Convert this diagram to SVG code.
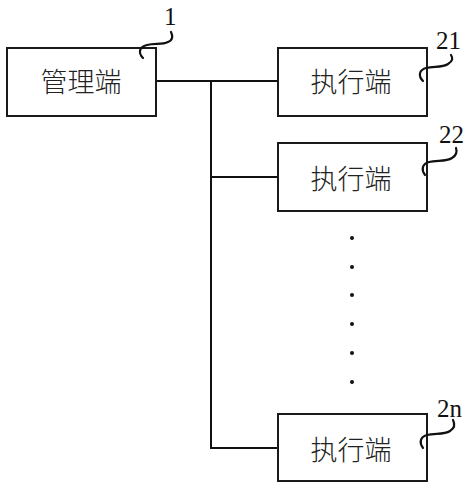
<svg xmlns="http://www.w3.org/2000/svg" width="474" height="490" viewBox="0 0 474 490">
<style>
.box{fill:#fff;stroke:#1a1a1a;stroke-width:2}
.cn{font-family:"Noto Sans CJK SC",sans-serif;font-size:27px;font-weight:300;fill:#222;text-anchor:middle;dominant-baseline:central}
.num{font-family:"Liberation Serif",serif;font-size:25px;fill:#111}
.lead{fill:none;stroke:#111;stroke-width:2.2;stroke-linecap:round}
.wire{fill:none;stroke:#111;stroke-width:2}
</style>
<rect width="474" height="490" fill="#fff"/>
<g id="connectors">
<path class="wire" d="M156,81 H278 M211,81 V448 H278 M211,177 H278"/>
</g>
<g id="manager">
<rect class="box" x="7" y="48" width="149" height="68"/>
<text class="cn" x="81" y="80">管理端</text>
<path class="lead" d="M143,58 C138,53 139,47 147,45 C155,43 162,45 168,42 C173,40 173,36 171,32"/>
<text class="num" x="164" y="25">1</text>
</g>
<g id="exec1">
<rect class="box" x="278" y="48" width="149" height="68"/>
<text class="cn" x="351" y="80">执行端</text>
<path class="lead" d="M423,81 C418,76 419,70 426,68 C434,66 442,68 448,64 C453,61 453,58 451,55"/>
<text class="num" x="436" y="49">21</text>
</g>
<g id="exec2">
<rect class="box" x="278" y="143" width="149" height="68"/>
<text class="cn" x="351" y="177">执行端</text>
<path class="lead" d="M425,175 C421,170 422,164 429,162 C437,160 446,162 452,158 C457,155 457,151 456,148"/>
<text class="num" x="439" y="143">22</text>
</g>
<g id="dots" fill="#111">
<circle cx="352" cy="238" r="2"/>
<circle cx="352" cy="267" r="2"/>
<circle cx="352" cy="295" r="2"/>
<circle cx="352" cy="324" r="2"/>
<circle cx="352" cy="353" r="2"/>
<circle cx="352" cy="382" r="2"/>
</g>
<g id="execn">
<rect class="box" x="278" y="414" width="149" height="67"/>
<text class="cn" x="351" y="448">执行端</text>
<path class="lead" d="M423,448 C419,443 420,437 427,435 C435,433 444,435 450,431 C455,428 455,424 453,420"/>
<text class="num" x="437" y="417">2n</text>
</g>
</svg>
